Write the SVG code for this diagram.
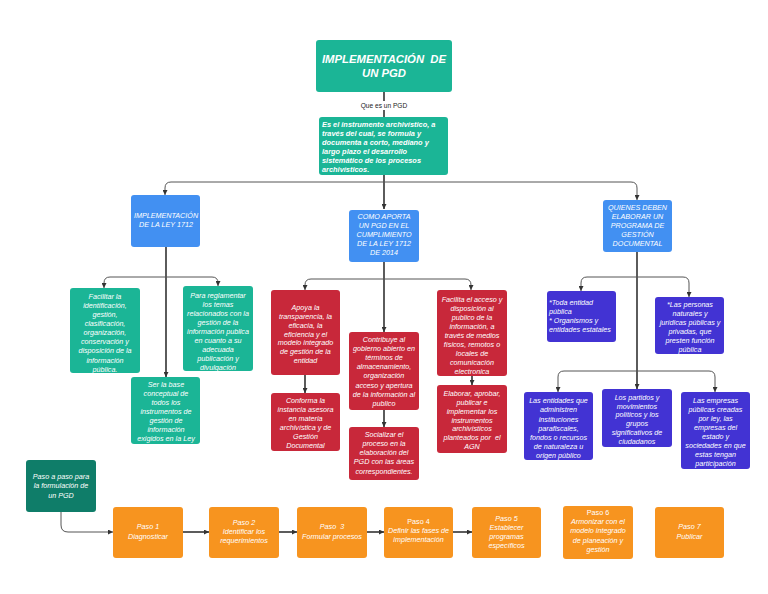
<svg xmlns="http://www.w3.org/2000/svg" width="768" height="594" viewBox="0 0 768 594">
<defs>
<marker id="ah" viewBox="0 0 10 10" refX="10" refY="5" markerWidth="5" markerHeight="5" orient="auto" markerUnits="userSpaceOnUse"><path d="M0,0 L10,5 L0,10 z" fill="#333"/></marker>
<style>
.teal{fill:#1BB596}
.blue{fill:#4290F2}
.red{fill:#C8283A}
.ind{fill:#4233D3}
.dk{fill:#0F7D69}
.org{fill:#F7941F}
text{font-family:"Liberation Sans",Arial,sans-serif;font-style:italic;fill:#fff;font-size:7.2px;text-anchor:middle}
.title{font-weight:bold;font-size:11.3px}
.def{font-weight:bold;font-size:7.4px;text-anchor:start}
.lbl{fill:#222;font-style:normal;font-size:6.6px}
.l{text-anchor:start}
.c{fill:none;stroke:#555;stroke-width:1}
.m{fill:none;stroke:#333;stroke-width:1.6}
</style>
</defs>
<rect width="768" height="594" fill="#fff"/>

<g id="connectors">
<path class="m" d="M384,92 V117"/>
<rect x="359" y="101" width="50" height="9" fill="#fff"/>
<text class="lbl" x="384" y="108.2">Que es un PGD</text>
<path class="m" d="M384,175 V209" marker-end="url(#ah)"/>
<path class="c" d="M384,182 H171 Q165,182 165,188 V195" marker-end="url(#ah)"/>
<path class="c" d="M384,182 H631 Q637,182 637,188 V200" marker-end="url(#ah)"/>

<path class="m" d="M166,247 V377" marker-end="url(#ah)"/>
<path class="c" d="M166,277 H110 Q104,277 104,283 V288" marker-end="url(#ah)"/>
<path class="c" d="M166,277 H212 Q218,277 218,283 V286" marker-end="url(#ah)"/>

<path class="m" d="M384,262 V332" marker-end="url(#ah)"/>
<path class="c" d="M384,279 H311 Q305,279 305,285 V290" marker-end="url(#ah)"/>
<path class="c" d="M384,279 H465 Q471,279 471,285 V290" marker-end="url(#ah)"/>
<path class="m" d="M305,375 V393" marker-end="url(#ah)"/>
<path class="m" d="M384,410 V427" marker-end="url(#ah)"/>
<path class="m" d="M472,376 V385" marker-end="url(#ah)"/>

<path class="m" d="M637,252 V389" marker-end="url(#ah)"/>
<path class="c" d="M637,277 H587 Q581,277 581,283 V291" marker-end="url(#ah)"/>
<path class="c" d="M637,277 H683 Q689,277 689,283 V297" marker-end="url(#ah)"/>
<path class="c" d="M637,371 H564 Q558,371 558,377 V392" marker-end="url(#ah)"/>
<path class="c" d="M637,371 H709 Q715,371 715,377 V392" marker-end="url(#ah)"/>

<path class="c" d="M61,512 V525 Q61,532 68,532 H113" marker-end="url(#ah)"/>
<path class="m" d="M183,532 H209" marker-end="url(#ah)"/>
<path class="m" d="M279,532 H297" marker-end="url(#ah)"/>
<path class="m" d="M367,532 H384" marker-end="url(#ah)"/>
<path class="m" d="M453,532 H472" marker-end="url(#ah)"/>
</g>

<g id="title">
<rect class="teal" x="316" y="40" width="136" height="52" rx="3"/>
<text class="title" x="384" y="63">IMPLEMENTACIÓN&#160; DE</text>
<text class="title" x="384" y="77">UN PGD</text>
</g>

<g id="definicion">
<rect class="teal" x="319" y="117" width="129" height="58" rx="3"/>
<text class="def" x="322" y="127">Es el instrumento archivístico, a<tspan x="322" dy="9">través del cual, se formula y</tspan><tspan x="322" dy="9">documenta a corto, mediano y</tspan><tspan x="322" dy="9">largo plazo el desarrollo</tspan><tspan x="322" dy="9">sistemático de los procesos</tspan><tspan x="322" dy="9">archivísticos.</tspan></text>
</g>

<g id="ley1712">
<rect class="blue" x="131" y="195" width="69" height="52" rx="3"/>
<text x="166" y="217.5">IMPLEMENTACIÓN<tspan x="166" dy="9.3">DE LA LEY 1712</tspan></text>
</g>

<g id="facilitar">
<rect class="teal" x="70" y="288" width="70" height="85" rx="3"/>
<text x="105" y="298.5">Facilitar la<tspan x="105" dy="9.15">identificación,</tspan><tspan x="105" dy="9.15">gestión,</tspan><tspan x="105" dy="9.15">clasificación,</tspan><tspan x="105" dy="9.15">organización,</tspan><tspan x="105" dy="9.15">conservación y</tspan><tspan x="105" dy="9.15">disposición de la</tspan><tspan x="105" dy="9.15">información</tspan><tspan x="105" dy="9.15">pública.</tspan></text>
</g>

<g id="reglamentar">
<rect class="teal" x="183" y="286" width="70" height="85" rx="3"/>
<text x="218" y="297.5">Para reglamentar<tspan x="218" dy="9">los temas</tspan><tspan x="218" dy="9">relacionados con la</tspan><tspan x="218" dy="9">gestión de la</tspan><tspan x="218" dy="9">información publica</tspan><tspan x="218" dy="9">en cuanto a su</tspan><tspan x="218" dy="9">adecuada</tspan><tspan x="218" dy="9">publicación y</tspan><tspan x="218" dy="9">divulgación</tspan></text>
</g>

<g id="base">
<rect class="teal" x="131" y="377" width="69" height="67" rx="3"/>
<text x="166" y="386.5">Ser la base<tspan x="166" dy="9.05">conceptual de</tspan><tspan x="166" dy="9.05">todos los</tspan><tspan x="166" dy="9.05">instrumentos de</tspan><tspan x="166" dy="9.05">gestión de</tspan><tspan x="166" dy="9.05">información</tspan><tspan x="166" dy="9.05">exigidos en la Ley</tspan></text>
</g>

<g id="aporta">
<rect class="blue" x="349" y="210" width="70" height="52" rx="3"/>
<text x="384" y="219">COMO APORTA<tspan x="384" dy="9">UN PGD EN EL</tspan><tspan x="384" dy="9">CUMPLIMIENTO</tspan><tspan x="384" dy="9">DE LA LEY 1712</tspan><tspan x="384" dy="9">DE 2014</tspan></text>
</g>

<g id="apoya">
<rect class="red" x="271" y="290" width="69" height="85" rx="3"/>
<text x="305.5" y="309.8">Apoya la<tspan x="305.5" dy="8.9">transparencia, la</tspan><tspan x="305.5" dy="8.9">eficacia, la</tspan><tspan x="305.5" dy="8.9">eficiencia y el</tspan><tspan x="305.5" dy="8.9">modelo integrado</tspan><tspan x="305.5" dy="8.9">de gestión de la</tspan><tspan x="305.5" dy="8.9">entidad</tspan></text>
</g>

<g id="conforma">
<rect class="red" x="271" y="393" width="69" height="58" rx="3"/>
<text x="305.5" y="403.2">Conforma la<tspan x="305.5" dy="9">instancia asesora</tspan><tspan x="305.5" dy="9">en materia</tspan><tspan x="305.5" dy="9">archivística y de</tspan><tspan x="305.5" dy="9">Gestión</tspan><tspan x="305.5" dy="9">Documental</tspan></text>
</g>

<g id="contribuye">
<rect class="red" x="349" y="332" width="70" height="78" rx="3"/>
<text x="384" y="341.8">Contribuye al<tspan x="384" dy="9.14">gobierno abierto en</tspan><tspan x="384" dy="9.14">términos de</tspan><tspan x="384" dy="9.14">almacenamiento,</tspan><tspan x="384" dy="9.14">organización</tspan><tspan x="384" dy="9.14">acceso y apertura</tspan><tspan x="384" dy="9.14">de la información al</tspan><tspan x="384" dy="9.14">publico</tspan></text>
</g>

<g id="socializar">
<rect class="red" x="349" y="427" width="70" height="53" rx="3"/>
<text x="384" y="436.8">Socializar el<tspan x="384" dy="9.2">proceso en la</tspan><tspan x="384" dy="9.2">elaboración del</tspan><tspan x="384" dy="9.2">PGD con las áreas</tspan><tspan x="384" dy="9.2">correspondientes.</tspan></text>
</g>

<g id="facilita">
<rect class="red" x="437" y="290" width="70" height="86" rx="3"/>
<text x="472" y="301.8">Facilita el acceso y<tspan x="472" dy="9.05">disposición al</tspan><tspan x="472" dy="9.05">publico de la</tspan><tspan x="472" dy="9.05">información, a</tspan><tspan x="472" dy="9.05">través de medios</tspan><tspan x="472" dy="9.05">físicos, remotos o</tspan><tspan x="472" dy="9.05">locales de</tspan><tspan x="472" dy="9.05">comunicación</tspan><tspan x="472" dy="9.05">electronica</tspan></text>
</g>

<g id="elaborar">
<rect class="red" x="437" y="385" width="70" height="68" rx="3"/>
<text x="472" y="395.8">Elaborar, aprobar,<tspan x="472" dy="8.9">publicar e</tspan><tspan x="472" dy="8.9">implementar los</tspan><tspan x="472" dy="8.9">instrumentos</tspan><tspan x="472" dy="8.9">archivísticos</tspan><tspan x="472" dy="8.9">planteados por&#160; el</tspan><tspan x="472" dy="8.9">AGN</tspan></text>
</g>

<g id="quienes">
<rect class="blue" x="603" y="200" width="69" height="52" rx="3"/>
<text x="637.5" y="210">QUIENES DEBEN<tspan x="637.5" dy="9">ELABORAR UN</tspan><tspan x="637.5" dy="9">PROGRAMA DE</tspan><tspan x="637.5" dy="9">GESTIÓN</tspan><tspan x="637.5" dy="9">DOCUMENTAL</tspan></text>
</g>

<g id="toda">
<rect class="ind" x="547" y="291" width="69" height="51" rx="3"/>
<text class="l" x="549" y="304.8">*Toda entidad<tspan x="549" dy="9">pública</tspan><tspan x="549" dy="9">* Organismos y</tspan><tspan x="549" dy="9">entidades estatales</tspan></text>
</g>

<g id="personas">
<rect class="ind" x="655" y="297" width="69" height="57" rx="3"/>
<text x="690" y="306.8">*Las personas<tspan x="690" dy="9">naturales y</tspan><tspan x="690" dy="9">jurídicas públicas y</tspan><tspan x="690" dy="9">privadas, que</tspan><tspan x="690" dy="9">presten función</tspan><tspan x="690" dy="9">pública</tspan></text>
</g>

<g id="entidades">
<rect class="ind" x="524" y="392" width="69" height="68" rx="3"/>
<text x="558.5" y="403.2">Las entidades que<tspan x="558.5" dy="9.17">administren</tspan><tspan x="558.5" dy="9.17">instituciones</tspan><tspan x="558.5" dy="9.17">parafiscales,</tspan><tspan x="558.5" dy="9.17">fondos o recursos</tspan><tspan x="558.5" dy="9.17">de naturaleza u</tspan><tspan x="558.5" dy="9.17">origen público</tspan></text>
</g>

<g id="partidos">
<rect class="ind" x="602" y="389" width="70" height="58" rx="3"/>
<text x="637" y="399.8">Los partidos y<tspan x="637" dy="8.8">movimientos</tspan><tspan x="637" dy="8.8">políticos y los</tspan><tspan x="637" dy="8.8">grupos</tspan><tspan x="637" dy="8.8">significativos de</tspan><tspan x="637" dy="8.8">ciudadanos</tspan></text>
</g>

<g id="empresas">
<rect class="ind" x="681" y="392" width="69" height="77" rx="3"/>
<text x="715.5" y="403.2">Las empresas<tspan x="715.5" dy="8.95">públicas creadas</tspan><tspan x="715.5" dy="8.95">por ley, las</tspan><tspan x="715.5" dy="8.95">empresas del</tspan><tspan x="715.5" dy="8.95">estado y</tspan><tspan x="715.5" dy="8.95">sociedades en que</tspan><tspan x="715.5" dy="8.95">estas tengan</tspan><tspan x="715.5" dy="8.95">participación</tspan></text>
</g>

<g id="pasoapaso">
<rect class="dk" x="26" y="460" width="70" height="52" rx="3"/>
<text x="61" y="479.2">Paso a paso para<tspan x="61" dy="9.15">la formulación de</tspan><tspan x="61" dy="9.15">un PGD</tspan></text>
</g>

<g id="paso1">
<rect class="org" x="113" y="507" width="70" height="51" rx="3"/>
<text x="148" y="529.2">Paso 1<tspan x="148" dy="9.3">Diagnosticar</tspan></text>
</g>

<g id="paso2">
<rect class="org" x="209" y="507" width="70" height="51" rx="3"/>
<text x="244" y="525.2">Paso 2<tspan x="244" dy="9">Identificar los</tspan><tspan x="244" dy="9">requerimientos</tspan></text>
</g>

<g id="paso3">
<rect class="org" x="297" y="507" width="70" height="51" rx="3"/>
<text x="332" y="529.2">Paso&#160; 3<tspan x="332" dy="9.3">Formular procesos</tspan></text>
</g>

<g id="paso4">
<rect class="org" x="384" y="507" width="69" height="51" rx="3"/>
<text x="418.5" y="523.5"><tspan font-style="normal">Paso 4</tspan><tspan x="418.5" dy="9.3">Definir las fases de</tspan><tspan x="418.5" dy="9.3">implementación</tspan></text>
</g>

<g id="paso5">
<rect class="org" x="472" y="507" width="69" height="51" rx="3"/>
<text x="506.5" y="520.5">Paso 5<tspan x="506.5" dy="9">Establecer</tspan><tspan x="506.5" dy="9">programas</tspan><tspan x="506.5" dy="9">específicos</tspan></text>
</g>

<g id="paso6">
<rect class="org" x="563" y="506" width="70" height="53" rx="3"/>
<text x="598" y="514.8"><tspan font-style="normal">Paso 6</tspan><tspan x="598" dy="9.25">Armonizar con el</tspan><tspan x="598" dy="9.25">modelo integrado</tspan><tspan x="598" dy="9.25">de planeación y</tspan><tspan x="598" dy="9.25">gestión</tspan></text>
</g>

<g id="paso7">
<rect class="org" x="655" y="507" width="69" height="51" rx="3"/>
<text x="689.5" y="529.2">Paso 7<tspan x="689.5" dy="9.3">Publicar</tspan></text>
</g>
</svg>
